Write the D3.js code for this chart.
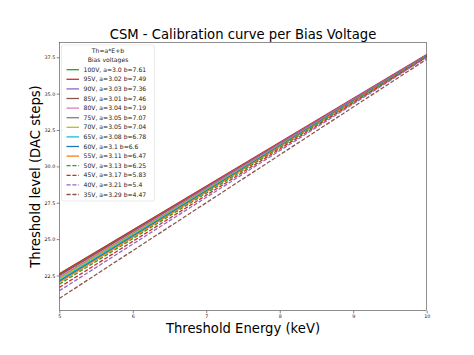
<!DOCTYPE html>
<html><head><meta charset="utf-8">
<script src="https://cdn.jsdelivr.net/npm/d3@7"></script>
<style>body{margin:0;background:#fff}svg{display:block}text{font-family:"DejaVu Sans",sans-serif}</style>
</head><body><svg id="c" width="474" height="355"></svg>
<script>
const voltages = ["100V","95V","90V","85V","80V","75V","70V","65V","60V","55V","50V","45V","40V","35V"];
const slopeA = [3.0,3.02,3.03,3.01,3.04,3.05,3.05,3.08,3.1,3.11,3.13,3.17,3.21,3.29];
const offsetB = [7.61,7.49,7.36,7.46,7.19,7.07,7.04,6.78,6.6,6.47,6.25,5.83,5.4,4.47];
const aLabels = ["3.0","3.02","3.03","3.01","3.04","3.05","3.05","3.08","3.1","3.11","3.13","3.17","3.21","3.29"];
const colors = ["#2ca02c","#d62728","#9467bd","#8c564b","#e377c2","#7f7f7f","#bcbd22","#17becf","#1f77b4","#ff7f0e","#2ca02c","#d62728","#9467bd","#8c564b"];
const dashed = [false,false,false,false,false,false,false,false,false,false,true,true,true,true];
const energyRange = [5,10];
const xTicks = [5,6,7,8,9,10];
const yTicks = [22.5,25.0,27.5,30.0,32.5,35.0,37.5];

const svg = d3.select("#c");
const L=59.3,R=426.7,T=42.3,B=310.7;
const x = d3.scaleLinear().domain(energyRange).range([L,R]);
const series = voltages.map((v,i)=>({v,a:slopeA[i],b:offsetB[i],pts:energyRange.map(e=>[e,slopeA[i]*e+offsetB[i]])}));
const allY = series.flatMap(s=>s.pts.map(p=>p[1]));
const mn=d3.min(allY), mx=d3.max(allY), sp=mx-mn;
const y = d3.scaleLinear().domain([mn-0.05*sp, mx+0.05*sp]).range([B,T]);

const line = d3.line().x(d=>x(d[0])).y(d=>y(d[1]));
const g = svg.append("g");
g.append("defs").append("clipPath").attr("id","clip").append("rect").attr("x",L).attr("y",T).attr("width",R-L).attr("height",B-T);
const lg = g.append("g").attr("clip-path","url(#clip)");
series.forEach((s,i)=>{
  lg.append("path").attr("d",line(s.pts)).attr("fill","none").attr("stroke",colors[i])
    .attr("stroke-width",1.3).attr("stroke-dasharray",dashed[i]?"4.1,1.8":null);
});

// axes
const xa = svg.append("g").attr("transform",`translate(0,${B})`).call(d3.axisBottom(x).tickValues(xTicks).tickSize(2.6).tickPadding(1.5).tickFormat(d3.format("d")));
const ya = svg.append("g").attr("transform",`translate(${L},0)`).call(d3.axisLeft(y).tickValues(yTicks).tickSize(2.6).tickPadding(1.5).tickFormat(d3.format(".1f")));
[xa,ya].forEach(a=>{a.select(".domain").remove();a.selectAll("line").attr("stroke","#333").attr("stroke-width",0.6);a.selectAll("text").attr("font-size",4.8).attr("fill","#111").attr("font-family","DejaVu Sans");});
svg.append("rect").attr("x",L).attr("y",T).attr("width",R-L).attr("height",B-T).attr("fill","none").attr("stroke","#444").attr("stroke-width",0.6);

// labels
svg.append("text").attr("x",(L+R)/2).attr("y",39).attr("text-anchor","middle").attr("font-size",13.2).attr("fill","#000").text("CSM - Calibration curve per Bias Voltage");
svg.append("text").attr("x",(L+R)/2).attr("y",333).attr("text-anchor","middle").attr("font-size",13.2).attr("fill","#000").text("Threshold Energy (keV)");
svg.append("text").attr("transform",`translate(40,${(T+B)/2}) rotate(-90)`).attr("text-anchor","middle").attr("font-size",13.2).attr("fill","#000").text("Threshold level (DAC steps)");

// legend
const lgX=61.5, lgY=45, lgW=93, lgH=156;
const leg = svg.append("g");
leg.append("rect").attr("x",lgX).attr("y",lgY).attr("width",lgW).attr("height",lgH).attr("rx",2)
  .attr("fill","#fff").attr("fill-opacity",0.8).attr("stroke","#ddd").attr("stroke-width",0.6);
leg.append("text").attr("x",lgX+lgW/2).attr("y",52.8).attr("text-anchor","middle").attr("font-size",6.1).attr("fill","#222").text("Th=a*E+b");
leg.append("text").attr("x",lgX+lgW/2).attr("y",62.3).attr("text-anchor","middle").attr("font-size",6.1).attr("fill","#222").text("Bias voltages");
series.forEach((s,i)=>{
  const yy = 69.7 + i*9.6;
  leg.append("line").attr("x1",66.5).attr("x2",79).attr("y1",yy).attr("y2",yy).attr("stroke",colors[i]).attr("stroke-width",1.3).attr("stroke-dasharray",dashed[i]?"4.1,1.8":null);
  leg.append("text").attr("x",83.5).attr("y",yy+2.1).attr("font-size",6.1).attr("fill","#222").text(`${s.v}, a=${aLabels[i]} b=${s.b}`);
});
</script></body></html>
